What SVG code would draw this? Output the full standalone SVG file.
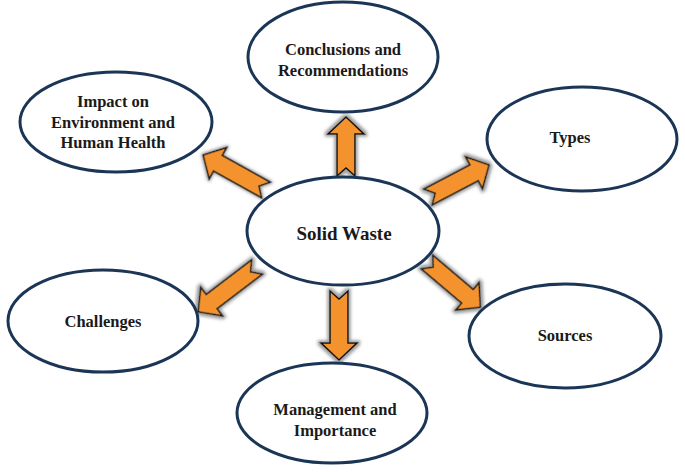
<svg xmlns="http://www.w3.org/2000/svg" width="685" height="472" viewBox="0 0 685 472">
<defs>
<filter id="glow" x="-30%" y="-30%" width="160%" height="160%">
<feMorphology in="SourceAlpha" operator="dilate" radius="1.5" result="d"/>
<feGaussianBlur in="d" stdDeviation="1.8" result="b"/>
<feFlood flood-color="#8a8a8a" flood-opacity="0.8"/>
<feComposite in2="b" operator="in" result="s"/>
<feMerge><feMergeNode in="s"/><feMergeNode in="SourceGraphic"/></feMerge>
</filter>
</defs>
<style>
.node ellipse{fill:#fff;stroke:#1b3556;stroke-width:3}
.node text{font-family:"Liberation Serif","Times New Roman",serif;font-weight:bold;font-size:16.5px;fill:#1a1a1a;text-anchor:middle}
.arrow{fill:#f4922d;stroke:#111;stroke-width:1.5;stroke-linejoin:miter;filter:url(#glow)}
</style>
<rect width="685" height="472" fill="#fff"/>
<g id="connectors">
<polygon class="arrow" transform="translate(346,176) rotate(-90)" points="0,-9 42,-9 42,-18 59,0 42,18 42,9 0,9 8,0"/>
<polygon class="arrow" transform="translate(339,291) rotate(90)" points="0,-9 52,-9 52,-18 69,0 52,18 52,9 0,9 8,0"/>
<polygon class="arrow" transform="translate(428,197) rotate(-27.7)" points="0,-9 52,-9 52,-18 69,0 52,18 52,9 0,9 8,0"/>
<polygon class="arrow" transform="translate(427,262) rotate(40.3)" points="0,-9 53,-9 53,-18 70,0 53,18 53,9 0,9 8,0"/>
<polygon class="arrow" transform="translate(266,190) rotate(-150.9)" points="0,-9 55,-9 55,-18 72,0 55,18 55,9 0,9 8,0"/>
<polygon class="arrow" transform="translate(257,267) rotate(142.7)" points="0,-9 57,-9 57,-18 74,0 57,18 57,9 0,9 8,0"/>
</g>
<g id="solid-waste" class="node">
<ellipse cx="343" cy="231" rx="96" ry="54"/>
<text x="344" y="240" style="font-size:19px">Solid Waste</text>
</g>
<g id="conclusions" class="node">
<ellipse cx="343" cy="57" rx="95" ry="55"/>
<text x="343" y="55">Conclusions and</text>
<text x="343" y="76">Recommendations</text>
</g>
<g id="impact" class="node">
<ellipse cx="116" cy="122" rx="96" ry="50"/>
<text x="113" y="107">Impact on</text>
<text x="113" y="128">Environment and</text>
<text x="113" y="148">Human Health</text>
</g>
<g id="types" class="node">
<ellipse cx="582" cy="139" rx="95" ry="52"/>
<text x="570" y="143">Types</text>
</g>
<g id="challenges" class="node">
<ellipse cx="103" cy="321" rx="95" ry="51"/>
<text x="103" y="327">Challenges</text>
</g>
<g id="sources" class="node">
<ellipse cx="565" cy="336" rx="96" ry="52"/>
<text x="565" y="341">Sources</text>
</g>
<g id="management" class="node">
<ellipse cx="332" cy="413" rx="95" ry="50"/>
<text x="335" y="415">Management and</text>
<text x="335" y="436">Importance</text>
</g>
</svg>
